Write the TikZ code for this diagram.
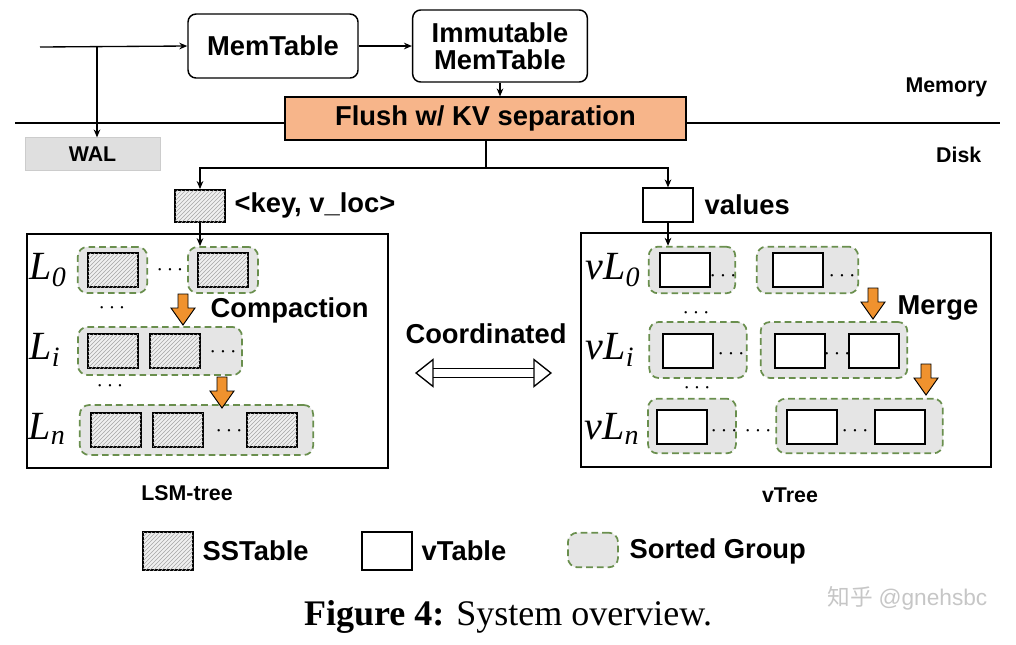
\documentclass[tikz,border=0pt]{standalone}
\usepackage{fontspec}
\setmainfont{Liberation Serif}
\newfontfamily\sans{Liberation Sans}
\newfontfamily\cjk{Noto Sans CJK SC}
\usetikzlibrary{patterns,arrows.meta}
\definecolor{flush}{HTML}{F7B58A}
\definecolor{grp}{HTML}{6A8F4E}
\definecolor{oarr}{HTML}{F0922E}
\begin{document}
\begin{tikzpicture}[x=0.75pt,y=-0.75pt,
  lbl/.style={font=\sans\bfseries\fontsize{20.5}{23}\selectfont},
  small/.style={font=\sans\bfseries\fontsize{16}{18}\selectfont},
  rbox/.style={draw,line width=1.1pt,rounded corners=6pt,align=center,inner sep=0pt},
  ss/.style={draw,line width=1.4pt,fill=gray!12,postaction={pattern=north east lines,pattern color=gray!70}},
  vt/.style={draw,line width=1.4pt,fill=white},
  grpst/.style={draw=grp,dashed,line width=1.3pt,fill=gray!20,rounded corners=7pt,dash pattern=on 5pt off 3pt},
  oa/.style={fill=oarr,draw=black,line width=0.7pt},
  ar/.style={-{Stealth[length=6pt,width=5pt]},line width=1pt},
  lv/.style={font=\fontsize{30}{30}\selectfont\itshape},
  dots/.style={font=\fontsize{16}{16}\selectfont}]
\useasboundingbox (0,0) rectangle (1016,644);
% memory area
\node[rbox,minimum width=127.5pt,minimum height=48pt,lbl] (mem) at (273,46) {MemTable};
\node[rbox,minimum width=131pt,minimum height=54pt,lbl] (imm) at (500,46) {Immutable\\[-3pt]MemTable};
\coordinate (in) at (40,47);
\coordinate (wj) at (97,47);
\draw[ar] (in) -- (mem.west);
\draw[ar] (mem.east) -- (imm.west);
\draw[line width=1.5pt] (15,123) -- (285,123) (686,123) -- (1000,123);
\node[draw,line width=1.1pt,fill=flush,minimum width=300.75pt,minimum height=32pt,inner sep=0pt,lbl] (flush) at (485.5,118.5) {Flush w/ KV separation};
\draw[ar] (imm.south) -- (flush.north -| imm.south);
\node[fill=gray!25,draw=gray!40,minimum width=101pt,minimum height=24.5pt,inner sep=0pt,small] (wal) at (92.5,154) {WAL};
\draw[ar] (wj) -- (wal.north -| wj);
\node[small,anchor=east] (memlbl) at (992,87) {Memory};
\node[small,anchor=east] (disklbl) at (986,155) {Disk};
% split
\node[ss,minimum width=37pt,minimum height=24pt,inner sep=0pt] (kb) at (200,206) {};
\node[vt,minimum width=37pt,minimum height=25pt,inner sep=0pt] (vb) at (668,205) {};
\node[lbl,anchor=west] (kl) at (230,205) {<key, v\_loc>};
\node[lbl,anchor=west] (vl) at (700,205) {values};
\coordinate (sp) at (486,168);
\draw[line width=1pt] (flush.south -| sp) -- (sp);
\draw[ar] (sp) -- (668,168) -- (vb.north);
\draw[ar] (sp) -- (200,168) -- (kb.north);
% LSM box
\node[draw,line width=1.4pt,minimum width=270.75pt,minimum height=175.5pt,inner sep=0pt] (lsm) at (207.5,351) {};
\node[grpst,minimum width=52pt,minimum height=34.5pt,inner sep=0pt] (g01) at (112.5,270) {};
\node[grpst,minimum width=52.5pt,minimum height=34.5pt,inner sep=0pt] (g02) at (223,270) {};
\node[ss,minimum width=37.5pt,minimum height=25.5pt,inner sep=0pt] (t01) at (113,270) {};
\node[ss,minimum width=37.5pt,minimum height=25.5pt,inner sep=0pt] (t02) at (223,270) {};
\draw[ar] (kb.south) -- (g02.north -| kb);
\node[dots] (d1) at (170,270) {$\cdots$};
\node[dots] (d2) at (112,308) {$\cdots$};
\node[grpst,minimum width=123pt,minimum height=36pt,inner sep=0pt] (gi) at (160,351) {};
\node[ss,minimum width=37.5pt,minimum height=25.5pt,inner sep=0pt] (ti1) at (113,351) {};
\node[ss,minimum width=37.5pt,minimum height=25.5pt,inner sep=0pt] (ti2) at (175,351) {};
\node[dots] (d3) at (223,352) {$\cdots$};
\node[dots] (d4) at (110,386) {$\cdots$};
\node[grpst,minimum width=175pt,minimum height=37.5pt,inner sep=0pt] (gn) at (196.5,430) {};
\node[ss,minimum width=37.5pt,minimum height=25.5pt,inner sep=0pt] (tn1) at (116,430) {};
\node[ss,minimum width=37.5pt,minimum height=25.5pt,inner sep=0pt] (tn2) at (178,430) {};
\node[dots] (d5) at (229,431) {$\cdots$};
\node[ss,minimum width=37.5pt,minimum height=25.5pt,inner sep=0pt] (tn3) at (272,430) {};
\node[lv] (L0) at (48,270) {L\textsubscript{0}};
\node[lv] (Li) at (45,350) {L\textsubscript{i}};
\node[lv] (Ln) at (47,429) {L\textsubscript{n}};
\node[lbl,anchor=west] (comp) at (206,310) {Compaction};
\draw[oa] (178,294) -- (188,294) -- (188,308) -- (195,308) -- (183,325) -- (171,308) -- (178,308) -- cycle;
\draw[oa] (217,377) -- (227,377) -- (227,391) -- (234,391) -- (222,408) -- (210,391) -- (217,391) -- cycle;
\node[small] (lsml) at (187,493) {LSM-tree};
% coordinated
\node[lbl] (coord) at (486,334) {Coordinated};
\coordinate (ca) at (415,373);
\coordinate (cb) at (552,373);
\draw[{Triangle[open,length=14pt,width=22pt]}-{Triangle[open,length=14pt,width=22pt]},line width=1pt,double distance=6pt] (ca) -- (cb);
% vTree
\node[draw,line width=1.4pt,minimum width=307.5pt,minimum height=175.5pt,inner sep=0pt] (vtr) at (786,350) {};
\node[grpst,minimum width=65pt,minimum height=35pt,inner sep=0pt] (v01) at (692,270) {};
\node[grpst,minimum width=76pt,minimum height=35pt,inner sep=0pt] (v02) at (807.5,270) {};
\node[vt,minimum width=37.5pt,minimum height=26pt,inner sep=0pt] (w01) at (685,270) {};
\node[vt,minimum width=37.5pt,minimum height=26pt,inner sep=0pt] (w02) at (798,270) {};
\node[dots] (e1) at (723,276) {$\cdots$};
\node[dots] (e2) at (842,276) {$\cdots$};
\draw[ar] (vb.south) -- (v01.north -| vb);
\node[dots] (e3) at (696,313) {$\cdots$};
\node[grpst,minimum width=73pt,minimum height=42pt,inner sep=0pt] (vi1) at (698,350) {};
\node[grpst,minimum width=110pt,minimum height=42pt,inner sep=0pt] (vi2) at (834,350) {};
\node[vt,minimum width=37.5pt,minimum height=25pt,inner sep=0pt] (wi1) at (688,351) {};
\node[dots] (e4) at (731,354) {$\cdots$};
\node[vt,minimum width=37.5pt,minimum height=25pt,inner sep=0pt] (wi2) at (800,351) {};
\node[dots] (e5) at (837,354) {$\cdots$};
\node[vt,minimum width=37.5pt,minimum height=25pt,inner sep=0pt] (wi3) at (874,351) {};
\node[dots] (e6) at (697,388) {$\cdots$};
\node[grpst,minimum width=66pt,minimum height=41pt,inner sep=0pt] (vn1) at (692,426) {};
\node[grpst,minimum width=125pt,minimum height=41pt,inner sep=0pt] (vn2) at (859.5,426) {};
\node[vt,minimum width=37.5pt,minimum height=25pt,inner sep=0pt] (wn1) at (682,427) {};
\node[dots] (e7) at (724,431) {$\cdots$};
\node[dots] (e8) at (758,431) {$\cdots$};
\node[vt,minimum width=37.5pt,minimum height=25pt,inner sep=0pt] (wn2) at (812,427) {};
\node[dots] (e9) at (855,431) {$\cdots$};
\node[vt,minimum width=37.5pt,minimum height=25pt,inner sep=0pt] (wn3) at (900,427) {};
\node[lv] (vL0) at (613,270) {vL\textsubscript{0}};
\node[lv] (vLi) at (610,350) {vL\textsubscript{i}};
\node[lv] (vLn) at (612,429) {vL\textsubscript{n}};
\node[lbl,anchor=west] (merge) at (893,308) {Merge};
\draw[oa] (868,288) -- (878,288) -- (878,302) -- (885,302) -- (873,319) -- (861,302) -- (868,302) -- cycle;
\draw[oa] (921,364) -- (931,364) -- (931,378) -- (938,378) -- (926,395) -- (914,378) -- (921,378) -- cycle;
\node[small] (vtl) at (790,495) {vTree};
% legend
\node[ss,minimum width=37.5pt,minimum height=28.5pt,inner sep=0pt] (k1) at (168,551) {};
\node[lbl,anchor=west] (k1l) at (198,551) {SSTable};
\node[vt,minimum width=37.5pt,minimum height=28.5pt,inner sep=0pt] (k2) at (387,551) {};
\node[lbl,anchor=west] (k2l) at (417,551) {vTable};
\node[grpst,minimum width=37.5pt,minimum height=26pt,inner sep=0pt] (k3) at (593,550) {};
\node[lbl,anchor=west] (k3l) at (625,551) {Sorted Group};
% caption
\node[font=\fontsize{27}{30}\selectfont] (cap) at (508,617) {\textbf{Figure 4:} System overview.};
\node[font=\fontsize{17}{20}\selectfont,text=gray!45,anchor=east] (wm) at (992,598) {{\cjk 知乎} {\sans @gnehsbc}};
\end{tikzpicture}
\end{document}
